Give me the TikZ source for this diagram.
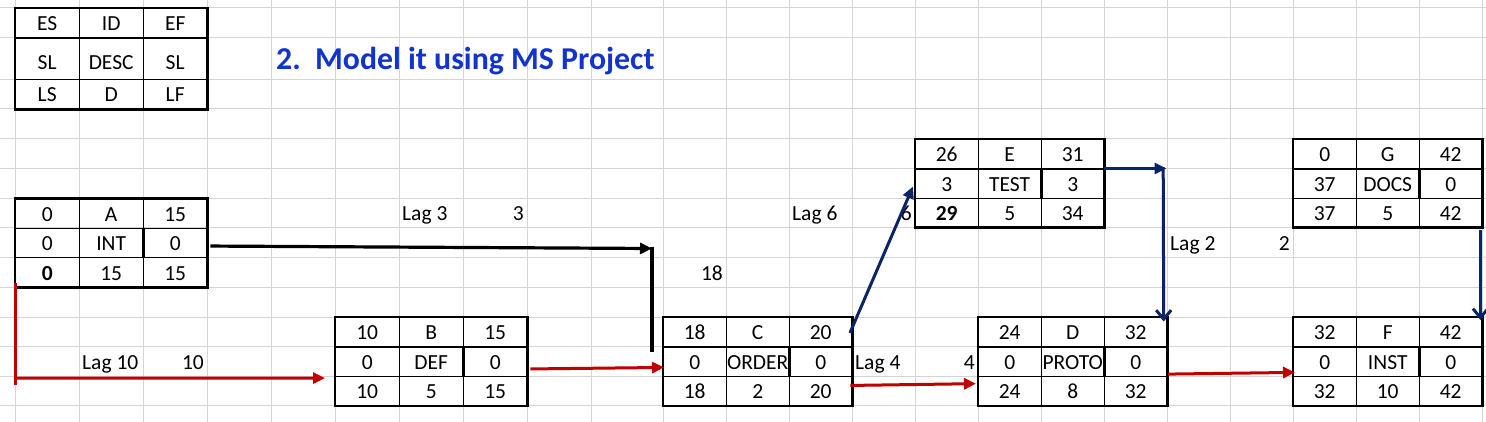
\documentclass[tikz,border=0pt]{standalone}
\usepackage{fontspec}
\setmainfont{Carlito}
\usetikzlibrary{matrix,arrows.meta}
\definecolor{gridgray}{HTML}{D4D4D4}
\definecolor{cpred}{HTML}{C00000}
\definecolor{navy}{HTML}{0A2468}
\definecolor{titleblue}{HTML}{1034CC}
\tikzset{
  cell/.style={inner sep=0pt, minimum height=29.5pt, text height=22.5pt, text depth=7pt},
  taskmat/.style={matrix of nodes, ampersand replacement=\&, inner sep=0pt,
    column sep=0pt, row sep=0pt, anchor=north west, nodes={cell, minimum width=#1}},
  outerframe/.style={line width=2.8pt},
  innerline/.style={line width=1.3pt},
  thickline/.style={line width=2.4pt},
  gridline/.style={gridgray, line width=1pt},
  lbl/.style={inner sep=0pt},
  redline/.style={cpred, line width=3pt},
  navyline/.style={navy, line width=3pt},
  blkline/.style={black, line width=3.2pt},
  tri/.style={-{Triangle[length=12pt,width=11pt]}},
  barb/.style={-{Straight Barb[length=9pt,width=15pt]}},
}
\newcommand\taskbox[5]{%
  \matrix (#1) [taskmat=#4] at (#2,#3) {#5};
  \draw[innerline] (#1-1-1.north east) -- (#1-3-1.south east)
                   (#1-1-2.north east) -- (#1-1-2.south east)
                   (#1-3-2.north east) -- (#1-3-2.south east)
                   (#1-1-1.south west) -- (#1-1-3.south east)
                   (#1-2-1.south west) -- (#1-2-3.south east);
  \draw[thickline] (#1-2-2.north east) -- (#1-2-2.south east);
  \draw[outerframe] (#1.north west) rectangle (#1.south east);
}
\begin{document}
\begin{tikzpicture}[x=1pt, y=-1pt, font=\fontsize{21.5pt}{25pt}\selectfont]
\fill[white] (0,0) rectangle (1486,422);
\useasboundingbox (0,0) rectangle (1486,422);
% spreadsheet grid
\foreach \x in {15,79,143,207,271,335,399,463,527,591,663,726,789,852,915,978,1041,1104,1167,1230,1293,1356,1419,1482}
  \draw[gridline] (\x,0) -- (\x,422);
\foreach \y in {8,37.5,79.3,108.5,139,168.5,198.3,228,257.5,287,317,346.7,376,405.3}
  \draw[gridline] (0,\y) -- (1486,\y);

% legend
\matrix (L) [taskmat=64pt, row 2/.style={nodes={minimum height=41.8pt, text height=31.8pt, text depth=10pt}}] at (15,8) {
  ES \& ID \& EF \\
  SL \& DESC \& SL \\
  LS \& D \& LF \\
};
\draw[innerline] (L-1-1.north east) -- (L-3-1.south east)
                 (L-1-2.north east) -- (L-3-2.south east)
                 (L-1-1.south west) -- (L-1-3.south east)
                 (L-2-1.south west) -- (L-2-3.south east);
\draw[outerframe] (L.north west) rectangle (L.south east);

\node[lbl, anchor=base west, font=\fontsize{31.8pt}{38pt}\selectfont\bfseries, text=titleblue] (title) at (276,69.5) {2.\ \ Model it using MS Project};

% task boxes
\taskbox{A}{15}{198.3}{64pt}{0 \& A \& 15 \\ 0 \& INT \& 0 \\ \textbf{0} \& 15 \& 15 \\}
\taskbox{B}{335}{317}{64pt}{10 \& B \& 15 \\ 0 \& DEF \& 0 \\ 10 \& 5 \& 15 \\}
\taskbox{C}{663}{317}{63pt}{18 \& C \& 20 \\ 0 \& ORDER \& 0 \\ 18 \& 2 \& 20 \\}
\taskbox{E}{915}{139}{63pt}{26 \& E \& 31 \\ 3 \& TEST \& 3 \\ \textbf{29} \& 5 \& 34 \\}
\taskbox{D}{978}{317}{63pt}{24 \& D \& 32 \\ 0 \& PROTO \& 0 \\ 24 \& 8 \& 32 \\}
\taskbox{G}{1293}{139}{63pt}{0 \& G \& 42 \\ 37 \& DOCS \& 0 \\ 37 \& 5 \& 42 \\}
\taskbox{F}{1293}{317}{63pt}{32 \& F \& 42 \\ 0 \& INST \& 0 \\ 32 \& 10 \& 42 \\}

% lag labels
\node[lbl, anchor=base west] (lag3) at (402,221) {Lag 3};
\node[lbl, anchor=base east] (lag3v) at (524,221) {3};
\node[lbl, anchor=base west] (lag10) at (82,369) {Lag 10};
\node[lbl, anchor=base east] (lag10v) at (204,369) {10};
\node[lbl, anchor=base west] (lag6) at (792,221) {Lag 6};
\node[lbl, anchor=base east] (lag6v) at (912,221) {6};
\node[lbl, anchor=base east] (v18) at (723,280) {18};
\node[lbl, anchor=base west] (lag4) at (855,369) {Lag 4};
\node[lbl, anchor=base east] (lag4v) at (975,369) {4};
\node[lbl, anchor=base west] (lag2) at (1170,250.5) {Lag 2};
\node[lbl, anchor=base east] (lag2v) at (1290,250.5) {2};

% A -> C (black)
\coordinate (acCorner) at (652,248.5);
\coordinate (acBottom) at (652,352);
\draw[blkline, tri] ([xshift=3pt,yshift=-3.3pt]A-2-3.east) -- (acCorner);
\draw[blkline] ([yshift=1.6pt]acCorner) -- (acBottom);

% A -> B (red)
\coordinate (abEnd) at (15,385);
\coordinate (abTurn) at (15,378);
\draw[redline] ([yshift=4pt]A.south west) -- (abEnd);
\draw[redline, tri] (abTurn) -- ([xshift=-10pt,yshift=-1.7pt]B-2-1.south west);

% B -> C
\draw[redline, tri] ([xshift=3pt,yshift=-7.5pt]B-2-3.east) -- ([xshift=1pt,yshift=-6pt]C-2-1.west);
% C -> E
\draw[navyline, tri] ([xshift=-2.5pt,yshift=-1pt]C-1-3.east) -- ([xshift=-2pt,yshift=-3pt]E-2-1.west);
% C -> D
\draw[redline, tri] ([xshift=-2pt,yshift=5.5pt]C-3-3.east) -- ([xshift=-2pt,yshift=7.3pt]D-3-1.west);
% E -> D
\coordinate (edCorner) at (1166.5,168.5);
\draw[navyline, tri] (E-2-3.north east) -- (edCorner);
\draw[navyline, barb] ([xshift=-3.3pt,yshift=1.3pt]edCorner) -- ([xshift=-3.7pt,yshift=-4.5pt]D-1-3.north east);
% D -> F
\draw[redline, tri] ([xshift=0.5pt,yshift=2.3pt]D-2-3.south east) -- ([xshift=2pt,yshift=4pt]F-2-1.south west);
% G -> F
\draw[navyline, barb] ([xshift=-2pt,yshift=-2pt]G.south east) -- ([xshift=-2pt,yshift=-3pt]F.north east);
\end{tikzpicture}
\end{document}
